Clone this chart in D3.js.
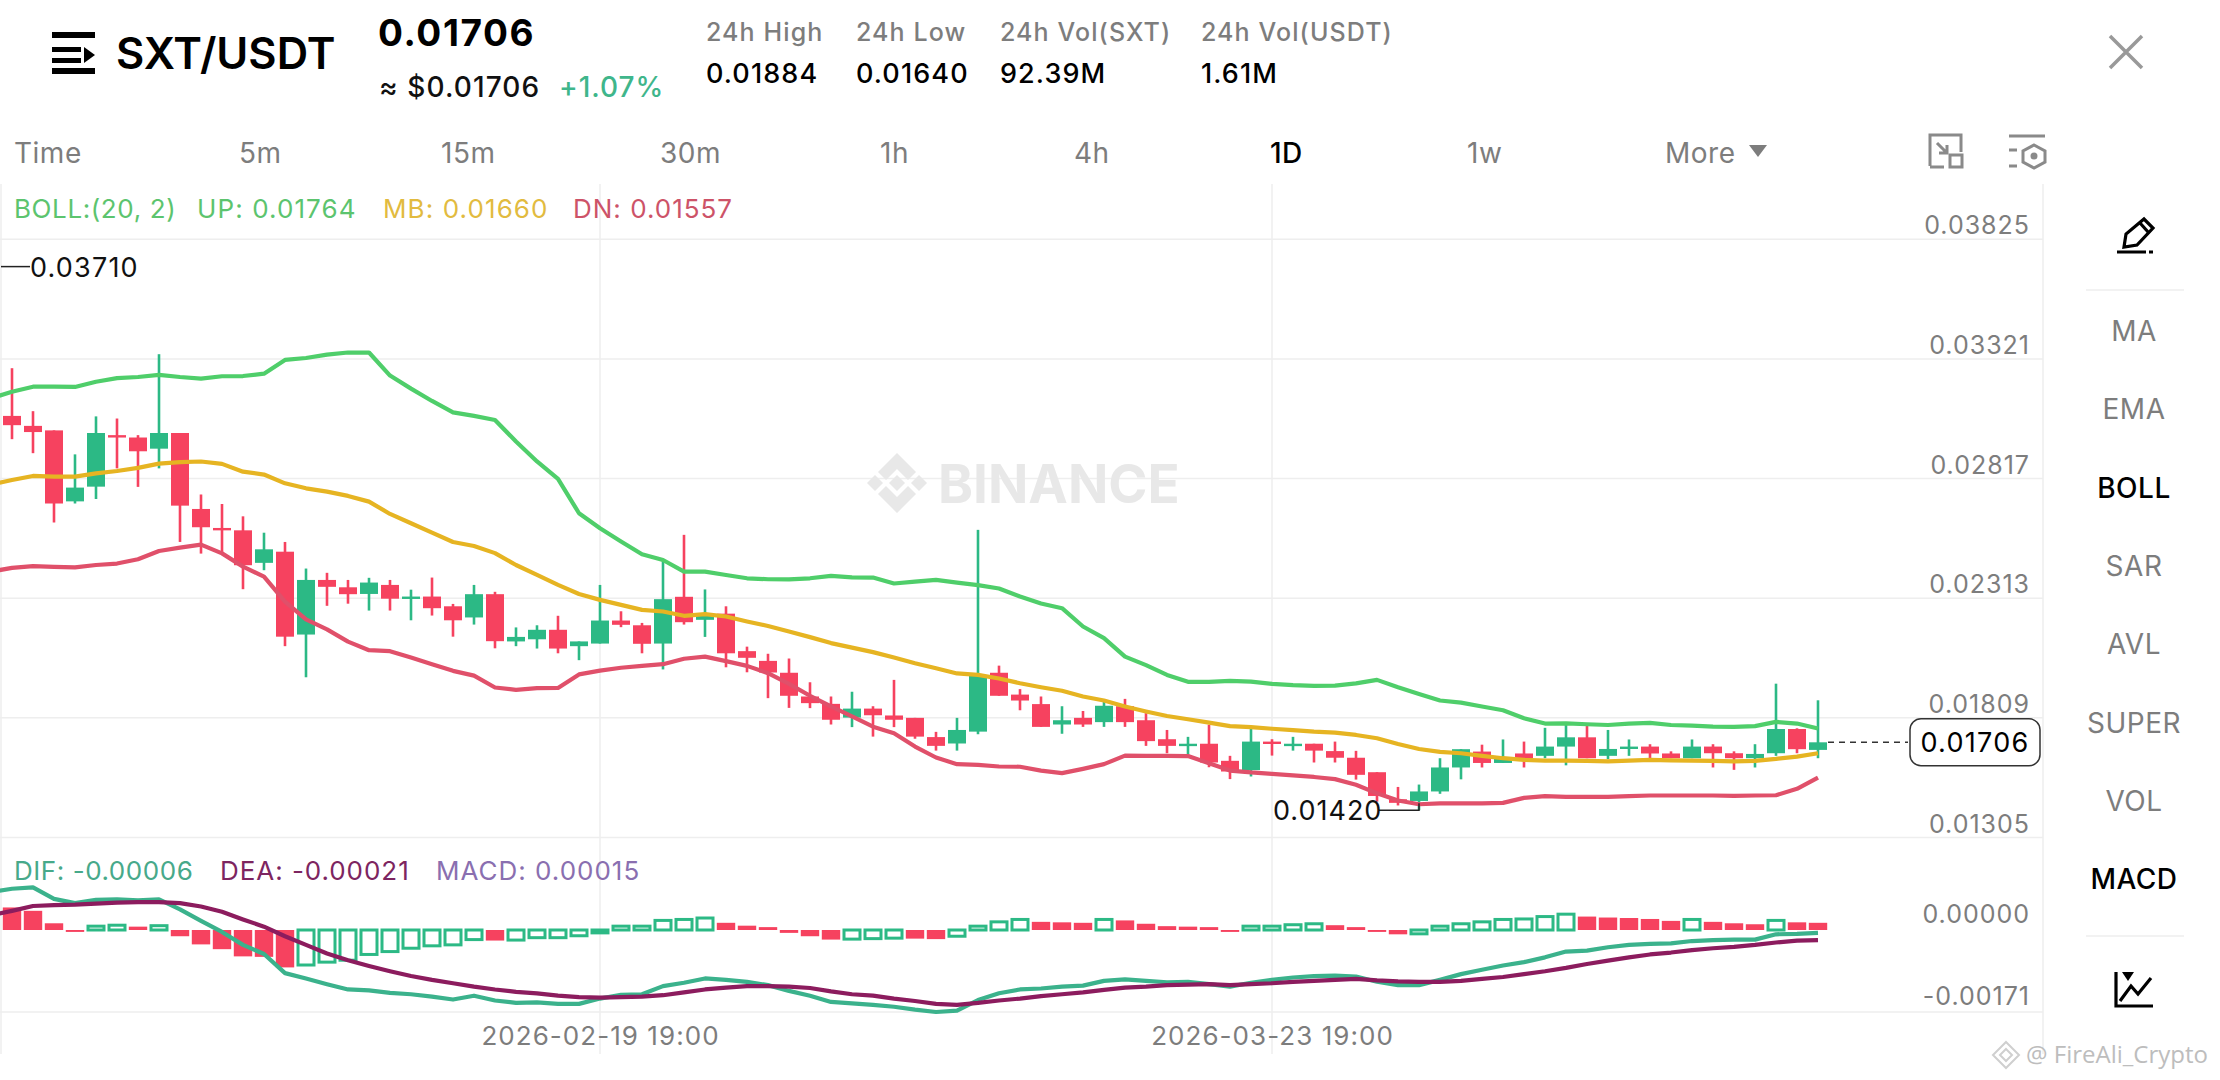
<!DOCTYPE html>
<html>
<head>
<meta charset="utf-8">
<script src="https://cdn.jsdelivr.net/npm/d3@7"></script>
<style>
  html, body { margin: 0; padding: 0; background: #fff; }
  svg { display: block; font-family: Inter, sans-serif; }
</style>
</head>
<body>
<div id="viz_container"></div>
<script>
//Data/////////////////////////////////////////////////////
// one daily candle per entry
const opens = [0.03081,0.03039,0.03020,0.02721,0.02783,0.03000,0.02990,0.02943,0.03009,0.02689,
  0.02609,0.02599,0.02462,0.02509,0.02160,0.02390,0.02359,0.02331,0.02369,0.02311,
  0.02320,0.02279,0.02232,0.02330,0.02131,0.02140,0.02180,0.02111,0.02122,0.02219,
  0.02199,0.02122,0.02319,0.02222,0.02248,0.02090,0.02049,0.01999,0.01899,0.01868,
  0.01810,0.01848,0.01819,0.01809,0.01728,0.01701,0.01751,0.01999,0.01907,0.01867,
  0.01781,0.01809,0.01791,0.01858,0.01799,0.01719,0.01691,0.01700,0.01628,0.01589,
  0.01709,0.01691,0.01700,0.01669,0.01641,0.01580,0.01466,0.01459,0.01499,0.01600,
  0.01667,0.01619,0.01659,0.01649,0.01688,0.01727,0.01649,0.01680,0.01688,0.01659,
  0.01639,0.01688,0.01660,0.01639,0.01660,0.01762,0.01674];
const closes = [0.03042,0.03013,0.02712,0.02779,0.03009,0.02992,0.02932,0.03009,0.02703,0.02612,
  0.02601,0.02452,0.02519,0.02151,0.02390,0.02361,0.02330,0.02379,0.02311,0.02320,
  0.02271,0.02220,0.02330,0.02132,0.02150,0.02180,0.02101,0.02131,0.02219,0.02201,
  0.02121,0.02309,0.02212,0.02239,0.02081,0.02062,0.02000,0.01902,0.01871,0.01801,
  0.01848,0.01820,0.01801,0.01730,0.01691,0.01758,0.01987,0.01902,0.01882,0.01771,
  0.01799,0.01781,0.01860,0.01791,0.01711,0.01691,0.01700,0.01621,0.01583,0.01709,
  0.01699,0.01700,0.01671,0.01641,0.01569,0.01480,0.01451,0.01499,0.01600,0.01677,
  0.01619,0.01639,0.01639,0.01688,0.01727,0.01639,0.01678,0.01688,0.01659,0.01639,
  0.01688,0.01660,0.01639,0.01657,0.01762,0.01677,0.01706];
const highs = [0.03282,0.03101,0.03020,0.02919,0.03079,0.03070,0.03000,0.03341,0.03009,0.02750,
  0.02710,0.02658,0.02589,0.02550,0.02438,0.02420,0.02390,0.02399,0.02390,0.02349,
  0.02400,0.02289,0.02369,0.02340,0.02190,0.02199,0.02239,0.02131,0.02369,0.02258,
  0.02209,0.02475,0.02580,0.02350,0.02279,0.02109,0.02079,0.02059,0.01959,0.01899,
  0.01919,0.01858,0.01969,0.01809,0.01750,0.01809,0.02601,0.02029,0.01930,0.01899,
  0.01858,0.01838,0.01888,0.01889,0.01829,0.01758,0.01729,0.01780,0.01649,0.01763,
  0.01719,0.01729,0.01700,0.01709,0.01670,0.01580,0.01518,0.01528,0.01639,0.01677,
  0.01696,0.01718,0.01709,0.01767,0.01786,0.01776,0.01758,0.01718,0.01698,0.01668,
  0.01718,0.01698,0.01668,0.01698,0.01953,0.01765,0.01883];
const lows = [0.02983,0.02924,0.02632,0.02712,0.02731,0.02860,0.02782,0.02860,0.02550,0.02501,
  0.02508,0.02351,0.02431,0.02111,0.01980,0.02281,0.02290,0.02261,0.02261,0.02220,
  0.02240,0.02151,0.02202,0.02102,0.02111,0.02101,0.02081,0.02052,0.02122,0.02191,
  0.02081,0.02013,0.02202,0.02150,0.02022,0.02001,0.01892,0.01851,0.01850,0.01781,
  0.01770,0.01730,0.01770,0.01721,0.01671,0.01671,0.01740,0.01902,0.01841,0.01771,
  0.01742,0.01771,0.01771,0.01771,0.01691,0.01660,0.01652,0.01601,0.01551,0.01562,
  0.01650,0.01671,0.01621,0.01621,0.01549,0.01456,0.01440,0.01420,0.01489,0.01550,
  0.01600,0.01619,0.01600,0.01639,0.01609,0.01639,0.01635,0.01649,0.01639,0.01639,
  0.01639,0.01600,0.01590,0.01600,0.01649,0.01660,0.01639];

// indicator lines start one day before the first candle, off the left edge
const bollUp = [0.03155,0.03183,0.03204,0.03204,0.03203,0.03225,0.03240,0.03245,0.03254,0.03245,0.03238,
  0.03248,0.03249,0.03259,0.03317,0.03325,0.03339,0.03348,0.03348,0.03251,0.03196,
  0.03144,0.03096,0.03081,0.03064,0.02973,0.02889,0.02816,0.02671,0.02608,0.02552,
  0.02498,0.02474,0.02425,0.02425,0.02411,0.02397,0.02393,0.02392,0.02397,0.02407,
  0.02401,0.02400,0.02375,0.02383,0.02390,0.02379,0.02368,0.02354,0.02320,0.02291,
  0.02271,0.02194,0.02145,0.02067,0.02031,0.01990,0.01961,0.01961,0.01965,0.01962,
  0.01952,0.01947,0.01944,0.01945,0.01954,0.01969,0.01938,0.01910,0.01882,0.01873,
  0.01857,0.01841,0.01807,0.01785,0.01786,0.01782,0.01779,0.01785,0.01788,0.01779,
  0.01776,0.01772,0.01771,0.01774,0.01792,0.01785,0.01764];
const bollMid = [0.02792,0.02811,0.02828,0.02825,0.02825,0.02839,0.02849,0.02862,0.02880,0.02886,0.02889,
  0.02879,0.02846,0.02834,0.02797,0.02776,0.02762,0.02744,0.02720,0.02668,0.02629,
  0.02589,0.02550,0.02533,0.02503,0.02453,0.02411,0.02369,0.02331,0.02306,0.02285,
  0.02264,0.02257,0.02239,0.02246,0.02236,0.02215,0.02196,0.02173,0.02149,0.02124,
  0.02105,0.02086,0.02063,0.02039,0.02018,0.01996,0.01990,0.01975,0.01955,0.01938,
  0.01923,0.01899,0.01882,0.01857,0.01836,0.01817,0.01803,0.01789,0.01774,0.01770,
  0.01763,0.01757,0.01751,0.01747,0.01737,0.01723,0.01699,0.01678,0.01666,0.01660,
  0.01649,0.01639,0.01632,0.01629,0.01629,0.01628,0.01626,0.01629,0.01632,0.01630,
  0.01629,0.01628,0.01626,0.01628,0.01636,0.01646,0.01660];
const bollDn = [0.02425,0.02441,0.02448,0.02445,0.02443,0.02453,0.02459,0.02477,0.02512,0.02526,0.02539,
  0.02502,0.02446,0.02404,0.02299,0.02224,0.02182,0.02130,0.02094,0.02090,0.02063,
  0.02035,0.02007,0.01987,0.01937,0.01927,0.01934,0.01935,0.01992,0.02008,0.02020,
  0.02028,0.02035,0.02058,0.02067,0.02048,0.02028,0.01997,0.01952,0.01902,0.01857,
  0.01815,0.01772,0.01744,0.01688,0.01642,0.01614,0.01611,0.01604,0.01603,0.01587,
  0.01576,0.01594,0.01614,0.01650,0.01649,0.01649,0.01648,0.01618,0.01587,0.01579,
  0.01573,0.01567,0.01560,0.01551,0.01527,0.01491,0.01461,0.01445,0.01449,0.01449,
  0.01449,0.01451,0.01472,0.01479,0.01476,0.01476,0.01476,0.01479,0.01482,0.01482,
  0.01482,0.01482,0.01480,0.01482,0.01483,0.01510,0.01557];
const macdDif = [0.00079,0.00086,0.00089,0.00065,0.00056,0.00063,0.00064,0.00062,0.00064,0.00043,0.00019,
  -0.00004,-0.00031,-0.00050,-0.00090,-0.00101,-0.00113,-0.00124,-0.00126,-0.00131,-0.00134,
  -0.00139,-0.00145,-0.00137,-0.00147,-0.00152,-0.00151,-0.00154,-0.00154,-0.00143,-0.00135,
  -0.00134,-0.00117,-0.00110,-0.00101,-0.00104,-0.00108,-0.00115,-0.00127,-0.00137,-0.00150,
  -0.00153,-0.00156,-0.00160,-0.00166,-0.00171,-0.00168,-0.00146,-0.00132,-0.00124,-0.00122,
  -0.00118,-0.00116,-0.00106,-0.00103,-0.00106,-0.00109,-0.00108,-0.00113,-0.00118,-0.00110,
  -0.00104,-0.00099,-0.00096,-0.00095,-0.00097,-0.00108,-0.00115,-0.00115,-0.00104,-0.00092,
  -0.00083,-0.00074,-0.00067,-0.00057,-0.00045,-0.00043,-0.00036,-0.00031,-0.00029,-0.00028,
  -0.00023,-0.00021,-0.00020,-0.00020,-0.00009,-0.00008,-0.00006];
const macdDea = [0.00031,0.00040,0.00050,0.00052,0.00053,0.00055,0.00057,0.00058,0.00058,0.00056,0.00049,
  0.00038,0.00022,0.00007,-0.00013,-0.00031,-0.00049,-0.00063,-0.00075,-0.00086,-0.00096,
  -0.00104,-0.00111,-0.00118,-0.00124,-0.00129,-0.00132,-0.00137,-0.00140,-0.00141,-0.00140,
  -0.00139,-0.00136,-0.00130,-0.00124,-0.00120,-0.00117,-0.00117,-0.00118,-0.00121,-0.00128,
  -0.00134,-0.00137,-0.00143,-0.00148,-0.00154,-0.00156,-0.00152,-0.00147,-0.00143,-0.00138,
  -0.00134,-0.00130,-0.00125,-0.00120,-0.00118,-0.00115,-0.00114,-0.00113,-0.00115,-0.00113,
  -0.00111,-0.00108,-0.00106,-0.00104,-0.00102,-0.00105,-0.00107,-0.00108,-0.00108,-0.00106,
  -0.00102,-0.00098,-0.00092,-0.00086,-0.00079,-0.00071,-0.00064,-0.00057,-0.00051,-0.00047,
  -0.00042,-0.00038,-0.00035,-0.00031,-0.00026,-0.00022,-0.00021];
const macdHist = [0.00047,0.00040,0.00014,-0.00004,0.00008,0.00010,0.00007,0.00009,-0.00013,-0.00030,
  -0.00040,-0.00055,-0.00056,-0.00078,-0.00073,-0.00067,-0.00063,-0.00051,-0.00045,-0.00038,
  -0.00033,-0.00031,-0.00020,-0.00022,-0.00021,-0.00016,-0.00016,-0.00012,-0.00006,0.00008,
  0.00008,0.00020,0.00022,0.00025,0.00015,0.00009,0.00006,-0.00006,-0.00013,-0.00020,
  -0.00019,-0.00018,-0.00017,-0.00018,-0.00019,-0.00013,0.00008,0.00017,0.00022,0.00017,
  0.00016,0.00015,0.00022,0.00020,0.00013,0.00008,0.00007,0.00006,-0.00004,0.00008,
  0.00008,0.00011,0.00013,0.00010,0.00006,-0.00004,-0.00009,-0.00008,0.00008,0.00013,
  0.00017,0.00022,0.00023,0.00028,0.00033,0.00028,0.00026,0.00025,0.00023,0.00019,
  0.00022,0.00017,0.00014,0.00012,0.00020,0.00016,0.00015];

const priceTicks = [0.03825, 0.03321, 0.02817, 0.02313, 0.01809, 0.01305];
const macdTicks = [0, -0.00171];
const dayTicks = [28, 60];
const dayLabels = ["2026-02-19 19:00", "2026-03-23 19:00"];
const lastPrice = 0.01706;
const highMark = 0.03710;
const lowMark = 0.01420;
const lowMarkDay = 67;

const tabs = ["Time", "5m", "15m", "30m", "1h", "4h", "1D", "1w", "More"];
const tabX = [14, 239, 441, 660, 880, 1074, 1270, 1467, 1665];
const statNames = ["24h High", "24h Low", "24h Vol(SXT)", "24h Vol(USDT)"];
const statValues = ["0.01884", "0.01640", "92.39M", "1.61M"];
const statX = [706, 856, 1000, 1201];
const sideItems = ["MA", "EMA", "BOLL", "SAR", "AVL", "SUPER", "VOL", "MACD"];
const sideActive = ["BOLL", "MACD"];

// colors
const red = "#f6425f", green = "#2cb985";
const grey = "#7d7d7d", gridColor = "#eeeeee";

//Chart////////////////////////////////////////////////////
const svg = d3.select("#viz_container")
  .append("svg")
    .attr("width", 2220)
    .attr("height", 1080);

const x = d3.scaleLinear().domain([0, 86]).range([12, 1818]);
const yPrice = d3.scaleLinear().domain([0.03825, 0.01305]).range([239.3, 837.5]);
const yMacd = d3.scaleLinear().domain([0, -0.00171]).range([930, 1012]);

const label = (parent, px, py, txt, size, fill, weight, spacing) => parent.append("text")
  .attr("x", px).attr("y", py)
  .attr("font-size", size)
  .attr("font-weight", weight || 400)
  .attr("letter-spacing", spacing || 0)
  .attr("fill", fill)
  .text(txt);

// grid
const grid = svg.append("g").attr("stroke", gridColor).attr("stroke-width", 1.5);
grid.selectAll(".h1").data(priceTicks).join("line")
  .attr("x1", 0).attr("x2", 2043)
  .attr("y1", d => yPrice(d)).attr("y2", d => yPrice(d));
grid.append("line").attr("x1", 0).attr("x2", 2043)
  .attr("y1", yMacd(macdTicks[1])).attr("y2", yMacd(macdTicks[1]));
grid.selectAll(".v").data(dayTicks).join("line")
  .attr("x1", d => x(d)).attr("x2", d => x(d))
  .attr("y1", 184).attr("y2", 1054);
grid.append("line").attr("x1", 1).attr("x2", 1).attr("y1", 184).attr("y2", 1054);
grid.append("line").attr("x1", 2043).attr("x2", 2043).attr("y1", 184).attr("y2", 1054);

// watermark
const mark = svg.append("g").attr("fill", "#e8e8e8");
mark.append("path").attr("d", "M897 453L916 472L908 480L897 469L886 480L878 472Z");
mark.append("path").attr("d", "M897 513L916 494L908 486L897 497L886 486L878 494Z");
mark.append("path").attr("d", "M897 475L905 483L897 491L889 483Z");
mark.append("path").attr("d", "M875 475L883 483L875 491L867 483Z");
mark.append("path").attr("d", "M919 475L927 483L919 491L911 483Z");
mark.append("text").attr("x", 938).attr("y", 503)
  .attr("font-size", 53).attr("font-weight", 700).text("BINANCE");

// price axis
const priceAxis = svg.append("g")
  .attr("transform", "translate(2030,0)")
  .call(d3.axisRight(yPrice).tickValues(priceTicks).tickSize(0).tickPadding(0).tickFormat(d3.format(".5f")));
priceAxis.select(".domain").remove();
priceAxis.selectAll("text")
  .attr("text-anchor", "end").attr("dy", "-5.5")
  .attr("font-size", 25).attr("letter-spacing", 1).attr("font-family", "Inter").attr("fill", grey);

const macdAxis = svg.append("g")
  .attr("transform", "translate(2030,0)")
  .call(d3.axisRight(yMacd).tickValues(macdTicks).tickSize(0).tickPadding(0).tickFormat(d => d.toFixed(5)));
macdAxis.select(".domain").remove();
macdAxis.selectAll("text")
  .attr("text-anchor", "end").attr("dy", "-8")
  .attr("font-size", 25).attr("letter-spacing", 1).attr("font-family", "Inter").attr("fill", grey);

const dayAxis = svg.append("g")
  .attr("transform", `translate(0,${yMacd(macdTicks[1])})`)
  .call(d3.axisBottom(x).tickValues(dayTicks).tickSize(0).tickPadding(15).tickFormat((d, i) => dayLabels[i]));
dayAxis.select(".domain").remove();
dayAxis.selectAll("text")
  .attr("font-size", 26).attr("letter-spacing", 1.05).attr("font-family", "Inter").attr("fill", grey);

// candles
const candles = opens.map((o, i) => ({ i: i, o: o, c: closes[i], h: highs[i], l: lows[i] }));
const candleColor = d => d.c >= d.o ? green : red;
const candleG = svg.append("g").selectAll("g").data(candles).join("g");
candleG.append("line")
  .attr("x1", d => x(d.i)).attr("x2", d => x(d.i))
  .attr("y1", d => yPrice(d.h)).attr("y2", d => yPrice(d.l))
  .attr("stroke", candleColor).attr("stroke-width", 2.6);
candleG.append("rect")
  .attr("x", d => x(d.i) - 9).attr("width", 18)
  .attr("y", d => yPrice(Math.max(d.o, d.c)))
  .attr("height", d => Math.max(2.4, Math.abs(yPrice(d.o) - yPrice(d.c))))
  .attr("fill", candleColor);

// indicator lines
svg.append("clipPath").attr("id", "plot")
  .append("rect").attr("x", 0).attr("y", 184).attr("width", 2043).attr("height", 870);
const drawLine = (values, scale, color) => svg.append("path")
  .datum(values)
  .attr("clip-path", "url(#plot)")
  .attr("fill", "none")
  .attr("stroke", color)
  .attr("stroke-width", 4.2)
  .attr("stroke-linejoin", "round")
  .attr("d", d3.line().x((d, i) => x(i - 1)).y(d => scale(d)));
drawLine(bollUp, yPrice, "#4fce6a");
drawLine(bollMid, yPrice, "#e6b422");
drawLine(bollDn, yPrice, "#e0506a");

// histogram: hollow green when rising, solid red when falling
const rising = i => i > 0 && macdHist[i] >= macdHist[i - 1];
svg.append("g").selectAll("rect").data(macdHist).join("rect")
  .attr("x", (d, i) => x(i) - (rising(i) ? 8 : 9.2))
  .attr("width", (d, i) => rising(i) ? 16 : 18.4)
  .attr("y", d => Math.min(yMacd(d), yMacd(0)))
  .attr("height", d => Math.abs(yMacd(d) - yMacd(0)))
  .attr("fill", (d, i) => rising(i) ? "#fff" : red)
  .attr("stroke", (d, i) => rising(i) ? green : "none")
  .attr("stroke-width", 3);
drawLine(macdDif, yMacd, "#3bb28c");
drawLine(macdDea, yMacd, "#8c1c5e");

// high, low and last price markers
svg.append("line").attr("x1", 1).attr("x2", 30)
  .attr("y1", yPrice(highMark)).attr("y2", yPrice(highMark))
  .attr("stroke", "#222").attr("stroke-width", 1.5);
label(svg, 30, yPrice(highMark) + 10, highMark.toFixed(5), 27, "#111", 400, 1.2);
svg.append("path")
  .attr("d", `M${x(lowMarkDay)} ${yPrice(lowMark) - 7}V${yPrice(lowMark)}H1379`)
  .attr("fill", "none").attr("stroke", "#222").attr("stroke-width", 1.5);
label(svg, 1273, yPrice(lowMark) + 10, lowMark.toFixed(5), 27, "#111", 400, 1.0);
svg.append("line").attr("x1", 1828).attr("x2", 1908)
  .attr("y1", yPrice(lastPrice)).attr("y2", yPrice(lastPrice))
  .attr("stroke", "#333").attr("stroke-width", 1.5).attr("stroke-dasharray", "6,5");
svg.append("rect").attr("x", 1910).attr("y", yPrice(lastPrice) - 23.5)
  .attr("width", 130).attr("height", 47).attr("rx", 11)
  .attr("fill", "#fff").attr("stroke", "#333").attr("stroke-width", 1.5);
label(svg, 1975, yPrice(lastPrice) + 10, lastPrice.toFixed(5), 27, "#000", 400, 1.3).attr("text-anchor", "middle");

// legends
label(svg, 14, 218, "BOLL:(20, 2)", 26, "#5cc46e", 400, 0.6);
label(svg, 197, 218, "UP: 0.01764", 26, "#5cc46e", 400, 1.1);
label(svg, 383, 218, "MB: 0.01660", 26, "#e2bb3f", 400, 1.1);
label(svg, 573, 218, "DN: 0.01557", 26, "#cd5368", 400, 1.0);
label(svg, 14, 880, "DIF: -0.00006", 26, "#47a98a", 400, 0.55);
label(svg, 220, 880, "DEA: -0.00021", 26, "#7d2560", 400, 0.95);
label(svg, 436, 880, "MACD: 0.00015", 26, "#8a6fb0", 400, 1.0);

// header
const logo = svg.append("g").attr("fill", "#000");
logo.append("rect").attr("x", 52).attr("y", 32).attr("width", 43).attr("height", 6);
logo.append("rect").attr("x", 52).attr("y", 47).attr("width", 29).attr("height", 5);
logo.append("path").attr("d", "M84 47L95 55L84 63Z");
logo.append("rect").attr("x", 52).attr("y", 58).attr("width", 29).attr("height", 5);
logo.append("rect").attr("x", 52).attr("y", 68).attr("width", 43).attr("height", 6);
label(svg, 116, 69, "SXT/USDT", 43.5, "#000", 600);
label(svg, 378, 46, "0.01706", 37, "#000", 700, 1.6);
label(svg, 379, 97, "≈ $0.01706", 28, "#111", 500, 1.1);
label(svg, 559, 97, "+1.07%", 28, "#3fb68b", 500, 1);

statNames.forEach((s, i) => {
  label(svg, statX[i], 41, s, 25, grey, 500, 1.1);
  label(svg, statX[i], 83, statValues[i], 27, "#000", 500, 1.1);
});

svg.append("path").attr("d", "M2110 36L2142 68M2142 36L2110 68")
  .attr("stroke", "#999").attr("stroke-width", 3.5).attr("fill", "none");

// period tabs
tabs.forEach((t, i) => {
  label(svg, tabX[i], 163, t, 28, t === "1D" ? "#000" : grey, t === "1D" ? 500 : 400, 0.5);
});
svg.append("path").attr("d", "M1749 145H1767L1758 157Z").attr("fill", grey);

const tool = svg.append("g").attr("fill", "none").attr("stroke", "#8a8a8a").attr("stroke-width", 3);
tool.append("path").attr("d", "M1930 166V135H1961V152M1944 167H1930M1937 143L1947 153M1947 145V153H1939");
tool.append("rect").attr("x", 1950).attr("y", 155).attr("width", 12).attr("height", 12);
tool.append("path").attr("d", "M2009 136H2045M2009 150H2017M2009 166H2017");
tool.append("path").attr("d", "M2034 145L2045 151V162L2034 168L2023 162V151Z");
tool.append("circle").attr("cx", 2034).attr("cy", 156).attr("r", 2).attr("fill", "#8a8a8a");

// side bar
sideItems.forEach((s, i) => {
  const on = sideActive.includes(s);
  label(svg, 2134, 341 + i * 78.3, s, 28, on ? "#000" : grey, on ? 500 : 400, 0.5).attr("text-anchor", "middle");
});
svg.append("g").attr("stroke", gridColor).attr("stroke-width", 1.5)
  .selectAll("line").data([290, 936]).join("line")
  .attr("x1", 2086).attr("x2", 2184).attr("y1", d => d).attr("y2", d => d);

const side = svg.append("g").attr("fill", "none").attr("stroke", "#000").attr("stroke-width", 3.2);
side.append("path").attr("d", "M2124 247L2126 234L2144 219L2153 228L2137 245Z");
side.append("path").attr("d", "M2140 223L2149 233");
side.append("path").attr("d", "M2117 252H2146M2149 252H2153");
side.append("path").attr("d", "M2116 972V1006H2153");
side.append("path").attr("d", "M2120 1001L2131 986L2138 994L2151 978");
svg.append("path").attr("d", "M2122 972H2134L2128 981Z").attr("fill", "#000");

// footer tag
const tagG = svg.append("g").attr("fill", "none").attr("stroke", "#cfcfcf").attr("stroke-width", 2);
tagG.append("path").attr("d", "M2006 1042L2019 1055L2006 1068L1993 1055Z");
tagG.append("path").attr("d", "M2006 1049L2012 1055L2006 1061L2000 1055Z");
label(svg, 2026, 1063, "@ FireAli_Crypto", 24, "#bdbdbd").attr("font-family", "Open Sans");
</script>
</body>
</html>
